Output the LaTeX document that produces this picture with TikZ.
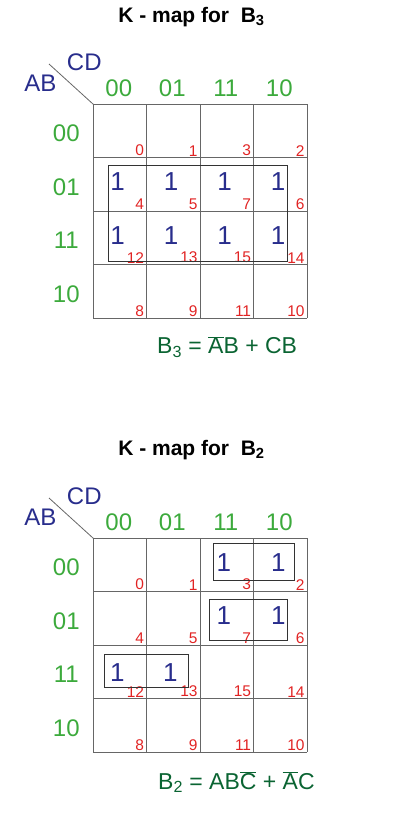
\documentclass[tikz,border=0pt]{standalone}
\usepackage{fontspec}
\setmainfont{Liberation Sans}
\usepackage{tikz}

\definecolor{hdrgreen}{RGB}{60,170,60}
\definecolor{varblue}{RGB}{40,45,140}
\definecolor{numred}{RGB}{225,35,35}
\definecolor{eqgreen}{RGB}{10,100,50}

\newcommand{\fsz}[1]{\fontsize{#1}{#1}\selectfont}

\tikzset{
  gridline/.style={draw=black!60, line width=0.8pt},
  grouprect/.style={draw=black!80, line width=0.8pt},
  maptitle/.style={font=\fsz{21}\bfseries, inner sep=0pt},
  varname/.style={font=\fsz{24}, text=varblue, inner sep=0pt},
  hdr/.style={font=\fsz{24}, text=hdrgreen, inner sep=0pt},
  onebit/.style={font=\fsz{26}, text=varblue, inner sep=0pt},
  cellno/.style={font=\fsz{15.5}, text=numred, inner sep=0pt, anchor=south east},
  eqn/.style={font=\fsz{23}, text=eqgreen, inner sep=0pt, anchor=west}
}

% grid, headers and cell numbers of one map, names prefixed by #1
\newcommand{\kmapbase}[1]{
  \foreach \i in {0,...,4}{
    \draw[gridline] (\i*53.5,0) -- (\i*53.5,214);
    \draw[gridline] (0,\i*53.5) -- (214,\i*53.5);
  }
  \coordinate (#1-corner) at (-44.3,-40.3);
  \draw[gridline] (#1-corner) -- (0,0);
  \node[varname] (#1-cd) at (-9,-42) {CD};
  \node[varname] (#1-ab) at (-53,-21) {AB};
  \foreach \c/\lab in {0/00,1/01,2/11,3/10}{
    \node[hdr] (#1-col\c) at (\c*53.5+25.5,-16) {\lab};
    \node[hdr] (#1-row\c) at (-27,\c*53.5+29) {\lab};
  }
  \foreach \c/\cv in {0/0,1/1,2/3,3/2}{
    \foreach \r/\rv in {0/0,1/1,2/3,3/2}{
      \pgfmathtruncatemacro\n{4*\rv+\cv}
      \node[cellno] (#1-n\n) at ({(\c+1)*53.5-2.5},{(\r+1)*53.5-1.5}) {\n};
    }
  }
}

\begin{document}
\begin{tikzpicture}[x=1pt,y=-1pt]
\useasboundingbox (0,0) rectangle (403,815);

% K-map for B3
\begin{scope}[shift={(93.3,104.3)}]
  \node[maptitle] (title3) at (98.2,-87.3) {K - map for \ B\textsubscript{3}};
  \kmapbase{m3}
  \foreach \c in {0,...,3}{
    \node[onebit] (m3-a\c) at (\c*53.5+24.25,77.25) {1};
    \node[onebit] (m3-b\c) at (\c*53.5+24.25,130.75) {1};
  }
  \draw[grouprect] (15,60.7) rectangle (194,157.4);
  \node[eqn] (eq3) at (63.7,242.7) {B\textsubscript{3} = $\overline{\mbox{A}}$B + CB};
\end{scope}

% K-map for B2
\begin{scope}[shift={(93.3,538.3)}]
  \node[maptitle] (title2) at (98.2,-88.3) {K - map for \ B\textsubscript{2}};
  \kmapbase{m2}
  \node[onebit] (m2-one3) at (130.5,23.75) {1};
  \node[onebit] (m2-one2) at (185,23.75) {1};
  \node[onebit] (m2-one7) at (130.5,77.25) {1};
  \node[onebit] (m2-one6) at (185,77.25) {1};
  \node[onebit] (m2-one12) at (24,134.3) {1};
  \node[onebit] (m2-one13) at (77,134.3) {1};
  \draw[grouprect] (120,5) rectangle (201,41.7);
  \draw[grouprect] (116,61) rectangle (194,101.7);
  \draw[grouprect] (10.7,116) rectangle (95,149);
  \node[eqn] (eq2) at (64.7,243.7) {B\textsubscript{2} = AB$\overline{\mbox{C}}$ + $\overline{\mbox{A}}$C};
\end{scope}
\end{tikzpicture}
\end{document}
